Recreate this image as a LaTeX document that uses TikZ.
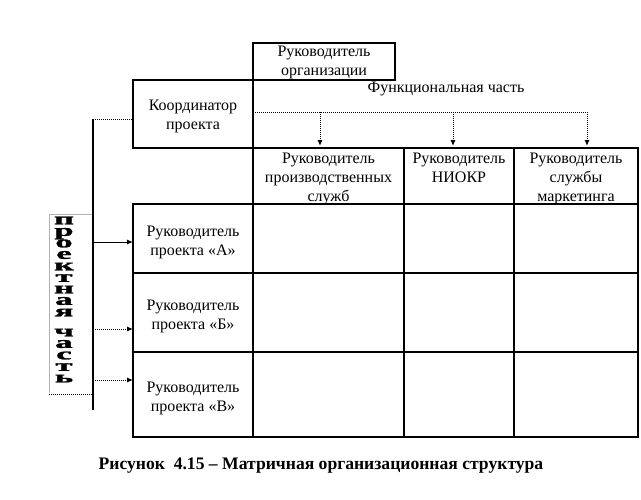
\documentclass[tikz,border=0pt]{standalone}
\usepackage{graphicx}
\usepackage{fontspec}
\setmainfont{Liberation Serif}
\newfontfamily\vertfnt[FakeBold=1.5]{Liberation Serif}
\usetikzlibrary{arrows.meta}
\newcommand\cellfnt{\fontsize{16}{19}\selectfont}
\newcommand\vertword{\scalebox{2.1}[1]{\vertfnt\fontsize{16.5}{11.5}\selectfont\bfseries
  \begin{tabular}{@{}c@{}}п\\р\\о\\е\\к\\т\\н\\а\\я\\[8.5pt]ч\\а\\с\\т\\ь\end{tabular}}}
\begin{document}
\begin{tikzpicture}[x=1pt,y=-1pt,
  box/.style={draw, line width=1.1pt, inner sep=0pt, outer sep=0pt, anchor=north west},
  lbl/.style={align=center, font=\cellfnt, inner sep=0pt},
  dotline/.style={line width=1pt, dash pattern=on 1pt off 1pt},
  arr/.style={-{Latex[length=6pt,width=5pt]}, line width=1pt},
]
\useasboundingbox (0,0) rectangle (641,499);
% top boxes
\node[box, minimum width=142pt, minimum height=37pt] (org) at (253,43) {};
\node[lbl] at ([yshift=-1pt]org.center) {Руководитель\\организации};
\node[box, minimum width=120pt, minimum height=68pt] (coord) at (133,80) {};
\node[lbl] at ([yshift=-2pt]coord.center) {Координатор\\проекта};
\node[lbl] (func) at (446,89) {Функциональная часть};
% header cells
\node[box, minimum width=151pt, minimum height=56pt] (h1) at (253,148) {};
\node[box, minimum width=110pt, minimum height=56pt] (h2) at (404,148) {};
\node[box, minimum width=124pt, minimum height=56pt] (h3) at (514,148) {};
\draw[line width=1.1pt] (coord.south west) -- (h1.north west);
\node[lbl, anchor=north] at ([yshift=-5pt]h1.north) {Руководитель\\производственных\\служб};
\node[lbl, anchor=north] at ([yshift=-5pt]h2.north) {Руководитель\\НИОКР};
\node[lbl, anchor=north] at ([yshift=-5pt]h3.north) {Руководитель\\службы\\маркетинга};
% project rows
\node[box, minimum width=120pt, minimum height=69pt] (rA) at (133,204) {};
\node[box, minimum width=120pt, minimum height=79pt] (rB) at (133,273) {};
\node[box, minimum width=120pt, minimum height=85pt] (rC) at (133,352) {};
\node[lbl] at ([yshift=-4pt]rA.center) {Руководитель\\проекта «А»};
\node[lbl] at ([yshift=-4pt]rB.center) {Руководитель\\проекта «Б»};
\node[lbl] at ([yshift=-4pt]rC.center) {Руководитель\\проекта «В»};
% empty matrix cells
\foreach \r/\y/\h in {A/204/69, B/273/79, C/352/85}{
  \node[box, minimum width=151pt, minimum height=\h pt] (m1\r) at (253,\y) {};
  \node[box, minimum width=110pt, minimum height=\h pt] (m2\r) at (404,\y) {};
  \node[box, minimum width=124pt, minimum height=\h pt] (m3\r) at (514,\y) {};
}
% functional connectors
\coordinate (fs) at (253,112);
\coordinate (f1) at (320,112);
\coordinate (f2) at (453,112);
\coordinate (f3) at (587,112);
\draw[dotline] (fs) -- (f3);
\draw[dotline, arr, shorten >=2pt] (f1) -- (f1 |- h1.north);
\draw[dotline, arr, shorten >=2pt] (f2) -- (f2 |- h2.north);
\draw[dotline, arr, shorten >=2pt] (f3) -- (f3 |- h3.north);
% project part label
\node[draw=gray!60, line width=0.8pt, minimum width=43pt, minimum height=180pt, inner sep=0pt, outer sep=0pt, anchor=north west] (pp) at (49,214) {};
\draw[white, line width=1.2pt] (pp.south west) -- (pp.south east);
\draw[dotline] (pp.south west) -- (pp.south east);
\node[inner sep=0pt] (ppt) at (64,301) {\vertword};
% project connectors
\coordinate (vt) at (93,119);
\coordinate (vb) at (93,410);
\draw[line width=1.1pt] (vt) -- (vb);
\draw[dotline] (vt) -- (vt -| coord.west);
\coordinate (pa) at (93,242);
\coordinate (pb) at (93,329);
\coordinate (pc) at (93,380);
\draw[arr] (pa) -- (pa -| rA.west);
\draw[dotline, arr] (pb) -- (pb -| rB.west);
\draw[dotline, arr] (pc) -- (pc -| rC.west);
% caption
\node[font=\fontsize{17.6}{21}\selectfont\bfseries, inner sep=0pt] (cap) at (321,466) {Рисунок\ \ 4.15 – Матричная организационная структура};
\end{tikzpicture}
\end{document}
